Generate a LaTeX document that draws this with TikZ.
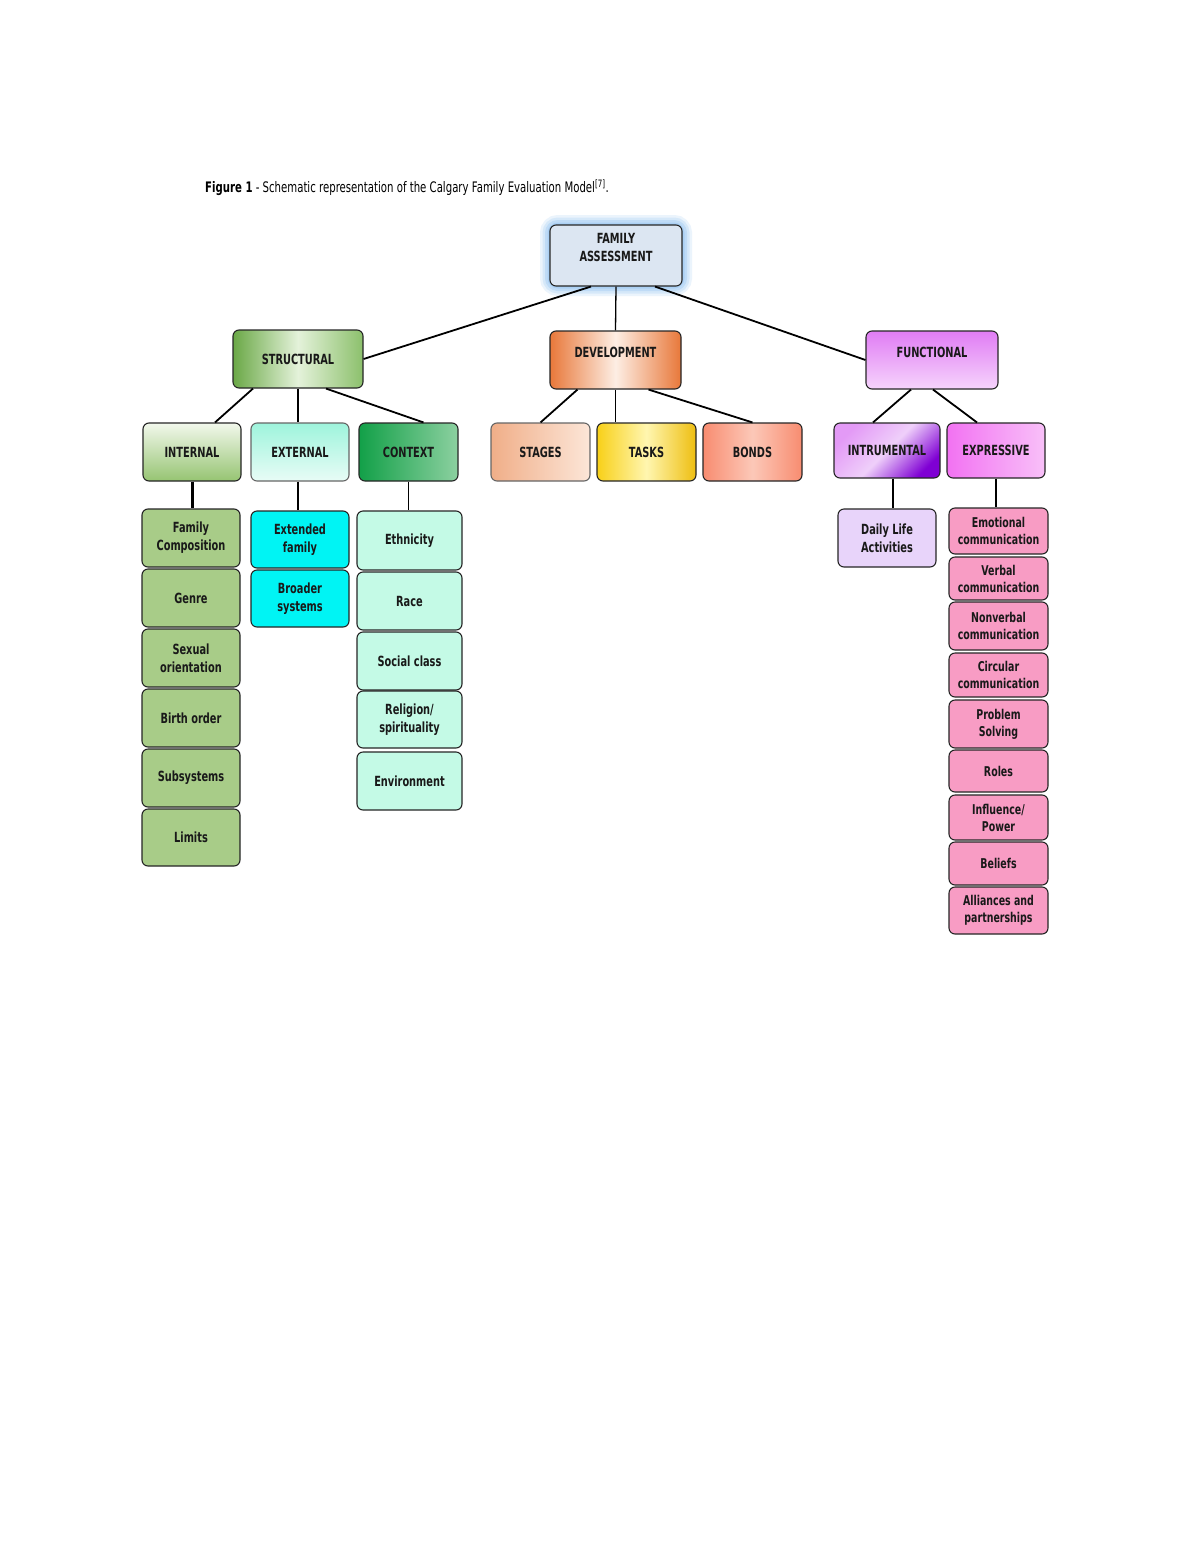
\documentclass[tikz,border=0pt]{standalone}
\usepackage{fontspec}
\setmainfont{DejaVu Sans}[FakeStretch=0.7]
\usetikzlibrary{calc}
\definecolor{fablue}{HTML}{DCE6F2}
\definecolor{glowblue}{HTML}{7FB8F0}
\definecolor{olive}{HTML}{A8CC88}
\definecolor{cyanbox}{HTML}{00F4F4}
\definecolor{mint}{HTML}{C4FAE6}
\definecolor{lavender}{HTML}{E8D4FA}
\definecolor{pinkbox}{HTML}{F89CC4}
\definecolor{stA}{HTML}{6AA846}\definecolor{stB}{HTML}{E4F2DA}\definecolor{stC}{HTML}{8CC06C}
\definecolor{dvA}{HTML}{E8783A}\definecolor{dvB}{HTML}{FDEEE4}
\definecolor{fnA}{HTML}{E07CF4}\definecolor{fnB}{HTML}{F6D4FC}
\definecolor{inA}{HTML}{F2F8EC}\definecolor{inB}{HTML}{96C472}
\definecolor{exA}{HTML}{9EF4DC}\definecolor{exB}{HTML}{E8FCF6}
\definecolor{ctA}{HTML}{12A048}\definecolor{ctB}{HTML}{8CD0A0}
\definecolor{sgA}{HTML}{F0AE88}\definecolor{sgB}{HTML}{FCE6D8}
\definecolor{tkA}{HTML}{F8D018}\definecolor{tkB}{HTML}{FFF6B0}\definecolor{tkC}{HTML}{EEBE10}
\definecolor{bdA}{HTML}{F88C70}\definecolor{bdB}{HTML}{FCC8B8}
\definecolor{irA}{HTML}{E39AF6}\definecolor{irB}{HTML}{EFCFFA}\definecolor{irC}{HTML}{7F00D4}
\definecolor{xpA}{HTML}{F272F2}\definecolor{xpB}{HTML}{F8C0F8}
\newcommand{\mkbox}[7]{\node[#1, minimum width={(#5-#4)*1pt}, minimum height={(#7-#6)*1pt}] (#2) at ({(#4+#5)/2},{(#6+#7)/2}) {#3};}
\tikzset{
  box/.style={draw=black!85, line width=1.1pt, rounded corners=6pt, align=center, inner sep=2pt,
    font=\bfseries\fontsize{14}{18}\selectfont, text=black!90},
  hdr/.style={box, font=\bfseries\fontsize{14}{18}\selectfont},
  small/.style={box, font=\bfseries\fontsize{13.5}{17}\selectfont},
  link/.style={draw=black, line width=1.8pt},
}
\begin{document}
\begin{tikzpicture}[x=1pt,y=-1pt]
\useasboundingbox[fill=white] (0,0) rectangle (1200,1553);
% caption
\node[anchor=west, inner sep=0pt, font=\fontsize{14.5}{16}\selectfont] (cap) at (205,188)
  {\textbf{Figure 1} - Schematic representation of the Calgary Family Evaluation Model\textsuperscript{[7]}.};
% glow
\foreach \w/\o in {20/0.15,15/0.2,10/0.25,5/0.3}
  \draw[draw=glowblue, line width=\w pt, opacity=\o, rounded corners=8pt] (550,225) rectangle (682,286);
\mkbox{hdr, fill=fablue, text depth=17pt}{fa}{FAMILY\\ASSESSMENT}{550}{682}{225}{286}
% level 1
\mkbox{hdr, left color=stA, right color=stC, middle color=stB}{st}{STRUCTURAL}{233}{363}{330}{388}
\mkbox{hdr, left color=dvA, right color=dvA, middle color=dvB, text depth=16pt}{dv}{DEVELOPMENT}{550}{681}{331}{389}
\mkbox{hdr, top color=fnA, bottom color=fnB, text depth=16pt}{fn}{FUNCTIONAL}{866}{998}{331}{389}
% level 2
\mkbox{hdr, top color=inA, bottom color=inB}{int}{INTERNAL}{143}{241}{423}{481}
\mkbox{hdr, top color=exA, bottom color=exB, draw=black!60}{ext}{EXTERNAL}{251}{349}{423}{481}
\mkbox{hdr, left color=ctA, right color=ctB}{ctx}{CONTEXT}{359}{458}{423}{481}
\mkbox{hdr, left color=sgA, right color=sgB, draw=black!60}{stg}{STAGES}{491}{590}{423}{481}
\mkbox{hdr, left color=tkA, right color=tkC, middle color=tkB}{tsk}{TASKS}{597}{696}{423}{481}
\mkbox{hdr, left color=bdA, right color=bdA, middle color=bdB}{bnd}{BONDS}{703}{802}{423}{481}
\mkbox{hdr, top color=irA, bottom color=irC, middle color=irB, shading angle=45}{intr}{INTRUMENTAL}{834}{940}{423}{478}
\mkbox{hdr, left color=xpA, right color=xpB}{expr}{EXPRESSIVE}{947}{1045}{423}{478}
% internal column
\mkbox{box, fill=olive}{fc}{Family\\Composition}{142}{240}{509}{567}
\mkbox{box, fill=olive}{gen}{Genre}{142}{240}{569}{627}
\mkbox{box, fill=olive}{sex}{Sexual\\orientation}{142}{240}{629}{687}
\mkbox{box, fill=olive}{bo}{Birth order}{142}{240}{689}{747}
\mkbox{box, fill=olive}{sub}{Subsystems}{142}{240}{749}{807}
\mkbox{box, fill=olive}{lim}{Limits}{142}{240}{809}{866}
% external column
\mkbox{box, fill=cyanbox}{ef}{Extended\\family}{251}{349}{511}{568}
\mkbox{box, fill=cyanbox}{bs}{Broader\\systems}{251}{349}{570}{627}
% context column
\mkbox{box, fill=mint}{eth}{Ethnicity}{357}{462}{511}{570}
\mkbox{box, fill=mint}{race}{Race}{357}{462}{572}{630}
\mkbox{box, fill=mint}{sc}{Social class}{357}{462}{632}{690}
\mkbox{box, fill=mint}{rel}{Religion/\\spirituality}{357}{462}{691}{748}
\mkbox{box, fill=mint}{env}{Environment}{357}{462}{752}{810}
% instrumental
\mkbox{box, fill=lavender}{dla}{Daily Life\\Activities}{838}{936}{509}{567}
% expressive column
\mkbox{small, fill=pinkbox}{emo}{Emotional\\communication}{949}{1048}{508}{554}
\mkbox{small, fill=pinkbox}{verb}{Verbal\\communication}{949}{1048}{557}{600}
\mkbox{small, fill=pinkbox}{nonv}{Nonverbal\\communication}{949}{1048}{602}{650}
\mkbox{small, fill=pinkbox}{circ}{Circular\\communication}{949}{1048}{653}{697}
\mkbox{small, fill=pinkbox}{prob}{Problem\\Solving}{949}{1048}{700}{748}
\mkbox{small, fill=pinkbox}{rol}{Roles}{949}{1048}{750}{792}
\mkbox{small, fill=pinkbox}{inf}{Influence/\\Power}{949}{1048}{795}{840}
\mkbox{small, fill=pinkbox}{bel}{Beliefs}{949}{1048}{842}{885}
\mkbox{small, fill=pinkbox}{all}{Alliances and\\partnerships}{949}{1048}{887}{934}
% connectors
\draw[link] ([xshift=-25pt]fa.south) -- (st.east);
\draw[link, line width=1.3pt] (fa.south) -- (dv.north);
\draw[link] ([xshift=39pt]fa.south) -- (fn.west);
\draw[link] ([xshift=-45pt]st.south) -- ([xshift=23pt]int.north);
\draw[link, line width=1.3pt] (st.south) -- (st.south |- ext.north);
\draw[link] ([xshift=28pt]st.south) -- ([xshift=15pt]ctx.north);
\draw[link] ([xshift=-38pt]dv.south) -- (stg.north);
\draw[link, line width=1.3pt] (dv.south) -- (dv.south |- tsk.north);
\draw[link] ([xshift=33pt]dv.south) -- (bnd.north);
\draw[link] ([xshift=-21pt]fn.south) -- ([xshift=-14pt]intr.north);
\draw[link] ([xshift=1pt]fn.south) -- ([xshift=-19pt]expr.north);
\draw[link, line width=3pt] (int.south) -- (int.south |- fc.north);
\draw[link, line width=1.3pt] ([xshift=-2pt]ext.south) -- ([xshift=-2pt]ext.south |- ef.north);
\draw[link, line width=1.3pt] (ctx.south) -- (ctx.south |- eth.north);
\draw[link, line width=1.3pt] ([xshift=6pt]intr.south) -- ([xshift=6pt]intr.south |- dla.north);
\draw[link, line width=1.3pt] (expr.south) -- (expr.south |- emo.north);
\end{tikzpicture}
\end{document}
